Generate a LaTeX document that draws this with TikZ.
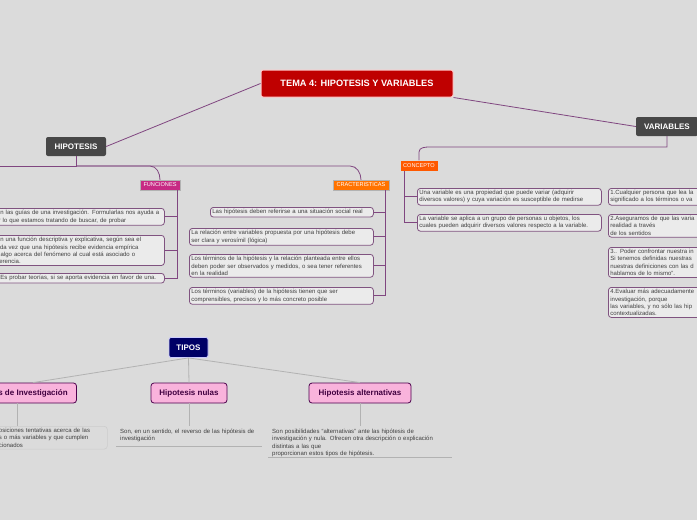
\documentclass[tikz,border=0pt]{standalone}
\usepackage{fontspec}
\setmainfont{Liberation Sans}
\begin{document}
\begin{tikzpicture}[x=1pt,y=-1pt,
  txt/.style={font=\fontsize{6}{7.2}\selectfont,text=black!75,align=left,anchor=north west,inner sep=2pt},
  tbox/.style={txt,draw=violet!35!gray,line width=0.8pt,rounded corners=3pt,fill=white!84!gray},
  tag/.style={font=\fontsize{5.6}{6}\selectfont,text=white,inner sep=1.5pt,minimum height=10pt,draw=white!70!black,line width=0.3pt},
  main/.style={font=\bfseries\fontsize{8}{9}\selectfont,text=white,rounded corners=2pt,minimum height=19pt,inner sep=4pt},
  sub/.style={font=\bfseries\fontsize{8}{9}\selectfont,text=violet!50!black,fill=magenta!30!white,draw=violet!60!black,line width=0.8pt,rounded corners=3pt,minimum height=20pt},
  lnk/.style={draw=violet!45!gray,line width=0.8pt},
  gl/.style={draw=gray!60,line width=0.8pt}]
\useasboundingbox (0,0) rectangle (697,520);
\clip (0,0) rectangle (697,520);
\fill[gray!28!white] (0,0) rectangle (697,520);
% main
\node[main,fill=red!75!black,draw=white!80!red,line width=1pt,minimum width=192pt,minimum height=27pt,font=\bfseries\fontsize{9.2}{10}\selectfont] (t) at (357,83.5) {TEMA 4: HIPOTESIS Y VARIABLES};
\node[main,fill=black!72,minimum width=60pt] (h) at (76,146.5) {HIPOTESIS};
\node[main,fill=black!72,minimum width=62pt] (v) at (667,126.5) {VARIABLES};
\draw[lnk] (h.east) -- (t.west);
\draw[lnk] (t.south east) -- (v.west);
% hipotesis branches
\node[tag,fill=magenta!80!black,minimum width=40pt] (f) at (160,185) {FUNCIONES};
\node[tag,fill=orange!90!red,minimum width=56pt] (c) at (361,185) {CRACTERISTICAS};
\draw[lnk] (h.south) -- (76,166) -- (0,166);
\draw[lnk] (76,166) -- (150,166) to[out=0,in=90] (f.north);
\draw[lnk] (76,166) -- (350,166) to[out=0,in=90] (c.north);
% funciones
\node[tbox,text width=170pt] (f1) at (-10,208) {\hspace{8pt}n las guías de una investigación. Formularlas nos ayuda a\\cer lo que estamos tratando de buscar, de probar};
\node[tbox,text width=170pt] (f2) at (-10,235) {\hspace{8pt}n una función descriptiva y explicativa, según sea el\\ Cada vez que una hipótesis recibe evidencia empírica\\ce algo acerca del fenómeno al cual está asociado o\\referencia.};
\node[tbox,text width=170pt] (f3) at (-10,273) {\hspace{8pt}Es probar teorías, si se aporta evidencia en favor de una.};
\coordinate (fa) at (177,190);
\draw[lnk] (fa) -- (fa |- f3.east) -- (f3.east);
\draw[lnk] (fa |- f1.east) -- (f1.east);
\draw[lnk] (fa |- f2.east) -- (f2.east);
% caracteristicas
\node[tbox,text width=159pt] (c1) at (210,207) {Las hipótesis deben referirse a una situación social real};
\node[tbox,text width=180pt] (c2) at (189,228) {La relación entre variables propuesta por una hipótesis debe\\ser clara y verosímil (lógica)};
\node[tbox,text width=180pt] (c3) at (189,254) {Los términos de la hipótesis y la relación planteada entre ellos\\deben poder ser observados y medidos, o sea tener referentes\\en la realidad};
\node[tbox,text width=180pt] (c4) at (189,287) {Los términos (variables) de la hipótesis tienen que ser\\comprensibles, precisos y lo más concreto posible};
\coordinate (ca) at (385,190);
\draw[lnk] (ca) -- (ca |- c4.east) -- (c4.east);
\foreach \n in {c1,c2,c3} \draw[lnk] (ca |- \n.east) -- (\n.east);
% variables
\node[tag,fill=red!30!orange,minimum width=37pt,draw=none] (k) at (419,165.5) {CONCEPTO};
\draw[lnk] (v.south) -- (667,147) -- (430,147) to[out=180,in=90] (419,152) -- (k.north);
\node[tbox,text width=180pt] (k1) at (417,188) {Una variable es una propiedad que puede variar (adquirir\\diversos valores) y cuya variación es susceptible de medirse};
\node[tbox,text width=180pt] (k2) at (417,214) {La variable se aplica a un grupo de personas u objetos, los\\cuales pueden adquirir diversos valores respecto a la variable.};
\coordinate (ka) at (404,171);
\draw[lnk] (ka) -- (ka |- k2.west) -- (k2.west);
\draw[lnk] (ka |- k1.west) -- (k1.west);
\node[tbox,text width=110pt] (r1) at (608,188) {1.Cualquier persona que lea la\\significado a los términos o va};
\node[tbox,text width=110pt] (r2) at (608,214) {2.Aseguramos de que las varia\\realidad a través\\ de los sentidos};
\node[tbox,text width=110pt] (r3) at (608,247) {3.. Poder confrontar nuestra in\\Si tenemos definidas nuestras\\nuestras definiciones con las d\\hablamos de lo mismo''.};
\node[tbox,text width=110pt] (r4) at (608,287) {4.Evaluar más adecuadamente\\investigación, porque\\ las variables, y no sólo las hip\\contextualizadas.};
% tipos
\node[main,fill=blue!40!black,draw=white!80!blue,line width=0.8pt,minimum width=39pt,minimum height=20pt] (tp) at (188.5,347.5) {TIPOS};
\node[sub,minimum width=87pt] (s1) at (33,393) {s de Investigación};
\node[sub,minimum width=76pt] (s2) at (189,393) {Hipotesis nulas};
\node[sub,minimum width=102pt] (s3) at (360,393) {Hipotesis alternativas};
\draw[gl] (tp.south) -- (s1.north);
\draw[gl] (tp.south) -- (s2.north);
\draw[gl] (tp.south) -- (s3.north);
\node[txt,draw=gray!40,line width=0.6pt,rounded corners=3pt,text width=113pt] (d1) at (-10,426) {oposiciones tentativas acerca de las\\dos o más variables y que cumplen\\encionados};
\node[txt,text width=142pt] (d2) at (118,427) {Son, en un sentido, el reverso de las hipótesis de\\investigación};
\node[txt,text width=180pt] (d3) at (270,427) {Son posibilidades ``alternativas'' ante las hipótesis de\\investigación y nula. Ofrecen otra descripción o explicación\\distintas a las que\\ proporcionan estos tipos de hipótesis.};
\draw[gl] (17,403) -- (17,426);
\draw[gl] (s2.south) -- (189,426);
\draw[gl] (s3.south) -- (360,426);
\draw[gl] (116,446) -- (262,446);
\draw[gl] (268,457) -- (452,457);
\end{tikzpicture}
\end{document}
